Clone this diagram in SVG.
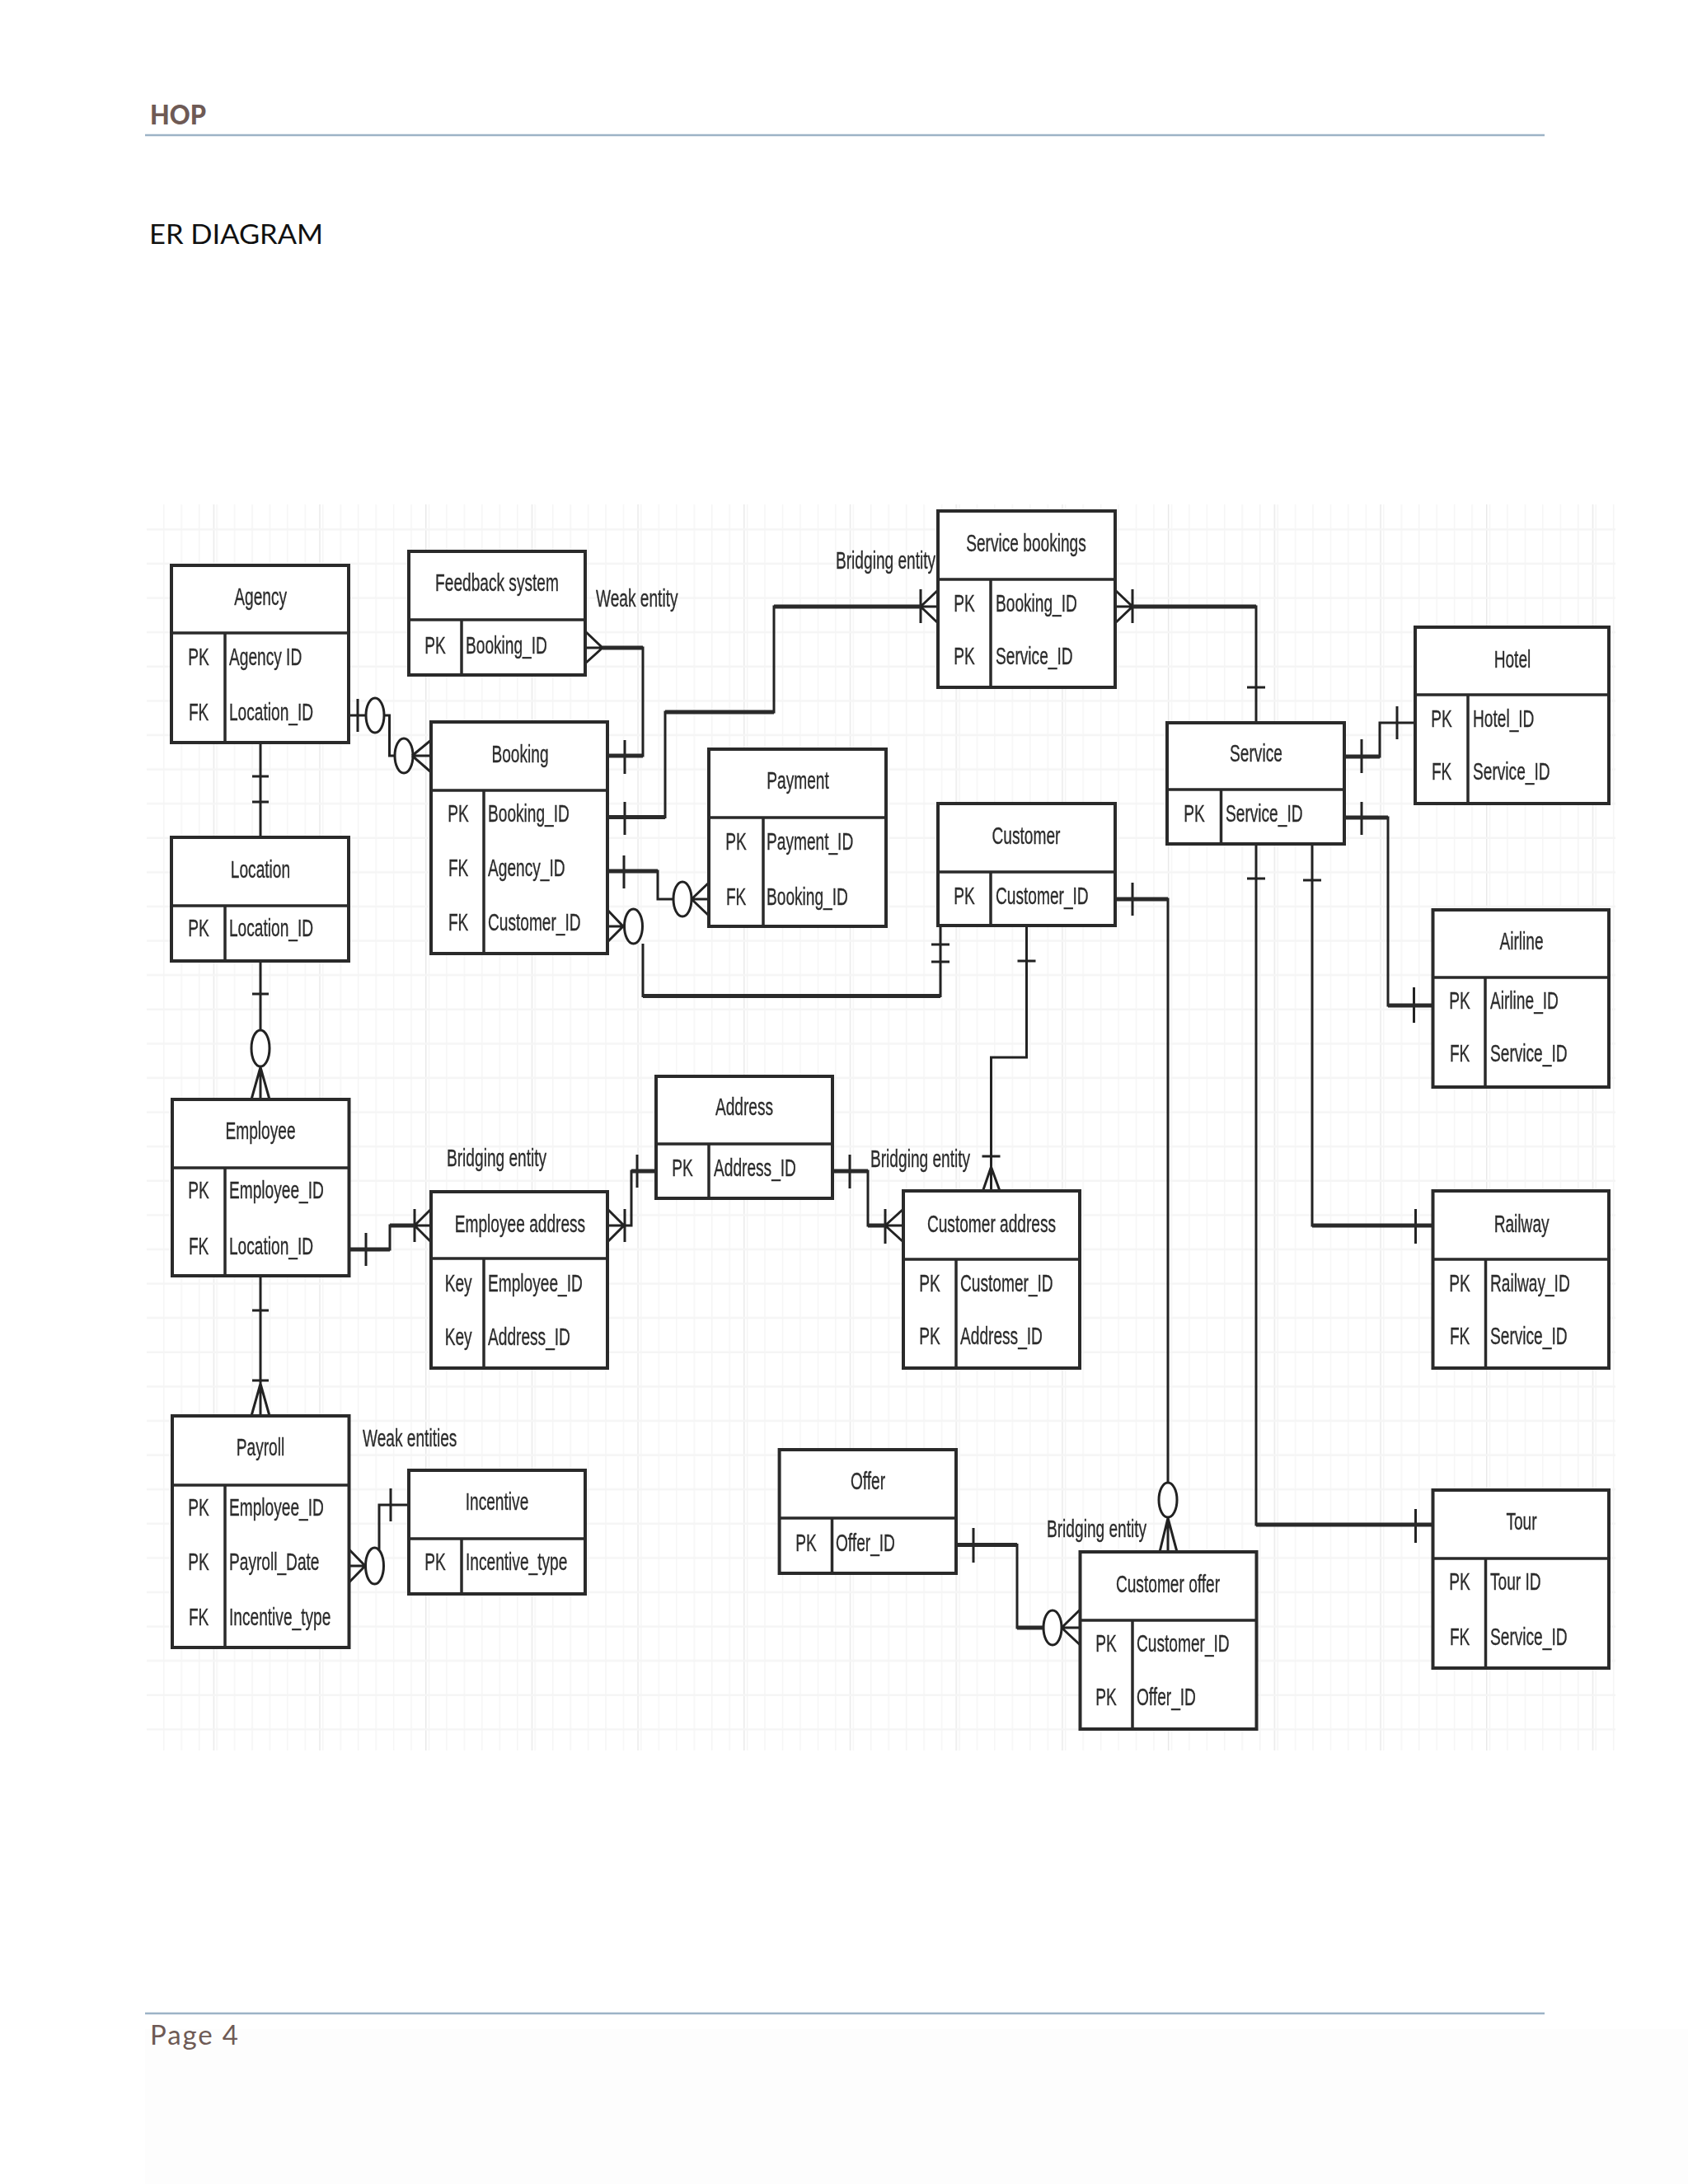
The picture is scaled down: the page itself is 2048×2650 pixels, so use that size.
<svg xmlns="http://www.w3.org/2000/svg" width="2048" height="2650" viewBox="0 0 2048 2650">
<style>
text{font-family:"Liberation Sans",Arial,sans-serif;fill:#2c2c2c;stroke:#2c2c2c;stroke-width:.35;font-size:29px}
.m,.s{transform-box:fill-box;transform:scaleX(.66)}
.m{text-anchor:middle;transform-origin:center}
.s{transform-origin:left}
.b{fill:#fff;stroke:#2a2a2a;stroke-width:4}
.l{fill:none;stroke:#2a2a2a;stroke-width:3.5}
.c{fill:none;stroke:#222;stroke-width:3}
.h{fill:none;stroke:#2a2a2a;stroke-width:5}
.o{fill:#fff;stroke:#222;stroke-width:3}
.p{font-family:Lato,"Liberation Sans",sans-serif;font-size:33px;stroke:none}
.rule{stroke:#9db3c6;stroke-width:2.5}
</style>
<defs>
<filter id="soft" filterUnits="userSpaceOnUse" x="170" y="600" width="1800" height="1540"><feGaussianBlur stdDeviation=".7"/></filter>
<pattern id="gv" width="21.45" height="200" patternUnits="userSpaceOnUse" x="198" y="612"><path d="M.7 0V200" stroke="#f5f5f5" stroke-width="1.5"/></pattern>
<pattern id="gM" width="128.7" height="200" patternUnits="userSpaceOnUse" x="1803" y="612"><path d="M.7 0V200" stroke="#e8e8e8" stroke-width="1.5"/></pattern>
<pattern id="gh" width="200" height="41.6" patternUnits="userSpaceOnUse" x="178" y="602"><path d="M0 41H200" stroke="#f5f5f5" stroke-width="4"/></pattern>
</defs>
<rect width="2048" height="2650" fill="#fff"/>
<rect x="176" y="2462" width="1872" height="188" fill="#fdfdfd"/>
<g id="page">
<text class="p" x="182" y="151" font-weight="900" textLength="68" lengthAdjust="spacingAndGlyphs" style="fill:#6e5a55">HOP</text>
<path class="rule" d="M176 164H1874M176 2443H1874"/>
<text class="p" x="181" y="296" textLength="211" lengthAdjust="spacingAndGlyphs" style="fill:#111">ER DIAGRAM</text>
<text class="p" x="182" y="2481" textLength="107" style="fill:#6e5a55">Page 4</text>
</g>
<g id="diagram" filter="url(#soft)">
<g id="grid">
<rect x="198" y="612" width="1762" height="1512" fill="url(#gv)"/>
<rect x="198" y="612" width="1762" height="1512" fill="url(#gM)"/>
<rect x="178" y="612" width="1782" height="1512" fill="url(#gh)"/>
</g>
<g id="connectors">
<path class="c" d="M423 868H472.500V917H479M434 848V888"/>
<ellipse class="o" cx="455" cy="868" rx="11" ry="21"/>
<ellipse class="o" cx="490" cy="917" rx="11" ry="21"/>
<path class="c" d="M500 917L523 898M500 917H523M500 917L523 937"/>
<path class="c" d="M316 901V1016M306 942H326M306 973H326"/>
<path class="c" d="M710 766L731 786L710 805M710 786H780V917H737M758 898V939"/>
<path class="c" d="M737 991.500H807V864H939V736H1138M758 973V1013"/>
<path class="c" d="M1117 736L1138 716M1117 736L1138 756M1117 715V756"/>
<path class="c" d="M1353 716L1374 736L1353 756M1374 715V756M1353 736H1524V877M1513 834H1535"/>
<path class="c" d="M737 1057H798V1091H817M757 1038V1078"/>
<ellipse class="o" cx="828" cy="1091" rx="11" ry="21"/>
<path class="c" d="M839 1091L860 1071M839 1091H860M839 1091L860 1111"/>
<path class="c" d="M737 1104L756 1124L737 1143M737 1124H757"/>
<path class="c" d="M780 1145V1208.500H1141V1123M1130 1146H1152M1130 1167H1152"/>
<ellipse class="o" cx="768.500" cy="1124" rx="11" ry="21"/>
<path class="c" d="M1631 918H1674V877H1717M1652 897V938M1695 857V897"/>
<path class="c" d="M1631 992H1684V1220H1738M1652 973V1013M1715.500 1198V1241"/>
<path class="c" d="M1524 1024V1850H1738M1513 1066H1535M1717.500 1831V1872"/>
<path class="c" d="M1592 1024V1487H1738M1581 1068H1603M1717.500 1467V1509"/>
<path class="c" d="M1353 1091H1417V1799M1374 1071V1111"/>
<ellipse class="o" cx="1417" cy="1820" rx="11" ry="21"/>
<path class="c" d="M1417 1842L1407 1883M1417 1841V1883M1417 1842L1428 1883"/>
<path class="c" d="M1245.500 1123V1283H1202.500V1445M1234.500 1166H1256.500M1191.500 1403H1213.500M1202.500 1416L1192.500 1445M1202.500 1416L1213 1445"/>
<path class="c" d="M1160 1874.500H1234V1975H1266M1181 1854V1896"/>
<ellipse class="o" cx="1277" cy="1975" rx="11" ry="21"/>
<path class="c" d="M1288 1975L1310.500 1953M1288 1975H1310.500M1288 1975L1310.500 1996"/>
<path class="c" d="M316 1166V1250M306 1206H326"/>
<ellipse class="o" cx="316" cy="1272" rx="11" ry="22"/>
<path class="c" d="M316 1295L305 1334M316 1294V1334M316 1295L327 1334"/>
<path class="c" d="M423 1516H473V1487H523M444 1496V1536M503 1467V1507M503 1487L523 1467M503 1487L523 1507"/>
<path class="c" d="M737 1467L757 1487L737 1507M737 1487H766V1421H796M758 1467V1507M773 1401V1441"/>
<path class="c" d="M1010 1421H1053V1487H1096M1031 1401V1442M1074 1467V1509M1074 1487L1096 1467M1074 1487L1096 1507"/>
<path class="c" d="M316 1548V1718M306 1590H326M306 1675H326M316 1679L305 1718M316 1679L327 1718"/>
<path class="c" d="M423.500 1880L443 1900L423.500 1920M423.500 1900H444M460 1880V1826H496M474 1806V1846"/>
<ellipse class="o" cx="454.500" cy="1900" rx="11" ry="22"/>
<path class="h" d="M731 786H780M737 917H780M737 991.500H807M807 864H939M939 736H1117M1374 736H1524M737 1057H798M1631 918H1674M1631 992H1684M1353 1091H1417M1160 1874.500H1234M1234 1975H1266M1010 1421H1053M1053 1487H1074M766 1421H796M473 1487H503M423 1516H473M1684 1220H1738M1592 1487H1738M1524 1850H1738M780 1208.500H1141"/>
</g>
<g id="annotations">
<text class="s" x="723" y="736">Weak entity</text>
<text class="s" x="1014" y="690">Bridging entity</text>
<text class="s" x="542" y="1415">Bridging entity</text>
<text class="s" x="1056" y="1416">Bridging entity</text>
<text class="s" x="1270" y="1865">Bridging entity</text>
<text class="s" x="440" y="1755">Weak entities</text>
</g>
<g id="agency"><rect class="b" x="208" y="686" width="215" height="215"/><path class="l" d="M208 768H423M273 768V901"/>
<text class="m" x="316" y="734">Agency</text><text class="m" x="241" y="807">PK</text><text class="s" x="278" y="807">Agency ID</text><text class="m" x="241" y="874">FK</text><text class="s" x="278" y="874">Location_ID</text></g>
<g id="feedback-system"><rect class="b" x="496" y="669" width="214" height="150"/><path class="l" d="M496 752H710M560 752V819"/>
<text class="m" x="603" y="717">Feedback system</text><text class="m" x="528" y="793">PK</text><text class="s" x="565" y="793">Booking_ID</text></g>
<g id="booking"><rect class="b" x="523" y="876" width="214" height="281"/><path class="l" d="M523 959H737M587 959V1157"/>
<text class="m" x="631" y="925">Booking</text><text class="m" x="556" y="997">PK</text><text class="s" x="592" y="997">Booking_ID</text><text class="m" x="556" y="1063">FK</text><text class="s" x="592" y="1063">Agency_ID</text><text class="m" x="556" y="1129">FK</text><text class="s" x="592" y="1129">Customer_ID</text></g>
<g id="location"><rect class="b" x="208" y="1016" width="215" height="150"/><path class="l" d="M208 1099H423M273 1099V1166"/>
<text class="m" x="316" y="1065">Location</text><text class="m" x="241" y="1136">PK</text><text class="s" x="278" y="1136">Location_ID</text></g>
<g id="service-bookings"><rect class="b" x="1138" y="620" width="215" height="214"/><path class="l" d="M1138 703H1353M1202 703V834"/>
<text class="m" x="1245" y="669">Service bookings</text><text class="m" x="1170" y="742">PK</text><text class="s" x="1208" y="742">Booking_ID</text><text class="m" x="1170" y="806">PK</text><text class="s" x="1208" y="806">Service_ID</text></g>
<g id="payment"><rect class="b" x="860" y="909" width="215" height="215"/><path class="l" d="M860 992H1075M926 992V1124"/>
<text class="m" x="968" y="957">Payment</text><text class="m" x="893" y="1031">PK</text><text class="s" x="930" y="1031">Payment_ID</text><text class="m" x="893" y="1098">FK</text><text class="s" x="930" y="1098">Booking_ID</text></g>
<g id="customer"><rect class="b" x="1138" y="975" width="215" height="148"/><path class="l" d="M1138 1058H1353M1202 1058V1123"/>
<text class="m" x="1245" y="1024">Customer</text><text class="m" x="1170" y="1097">PK</text><text class="s" x="1208" y="1097">Customer_ID</text></g>
<g id="service"><rect class="b" x="1416" y="877" width="215" height="147"/><path class="l" d="M1416 958H1631M1481.500 958V1024"/>
<text class="m" x="1524" y="924">Service</text><text class="m" x="1449" y="997">PK</text><text class="s" x="1487" y="997">Service_ID</text></g>
<g id="hotel"><rect class="b" x="1717" y="761" width="235" height="214"/><path class="l" d="M1717 843H1952M1781 843V975"/>
<text class="m" x="1835" y="810">Hotel</text><text class="m" x="1749" y="882">PK</text><text class="s" x="1787" y="882">Hotel_ID</text><text class="m" x="1749" y="946">FK</text><text class="s" x="1787" y="946">Service_ID</text></g>
<g id="airline"><rect class="b" x="1738.500" y="1104" width="213.500" height="215"/><path class="l" d="M1738.500 1186H1952M1802 1186V1319"/>
<text class="m" x="1846" y="1152">Airline</text><text class="m" x="1771" y="1224">PK</text><text class="s" x="1808" y="1224">Airline_ID</text><text class="m" x="1771" y="1288">FK</text><text class="s" x="1808" y="1288">Service_ID</text></g>
<g id="railway"><rect class="b" x="1738.500" y="1445" width="213.500" height="215"/><path class="l" d="M1738.500 1528H1952M1802.500 1528V1660"/>
<text class="m" x="1846" y="1495">Railway</text><text class="m" x="1771" y="1567">PK</text><text class="s" x="1808" y="1567">Railway_ID</text><text class="m" x="1771" y="1631">FK</text><text class="s" x="1808" y="1631">Service_ID</text></g>
<g id="tour"><rect class="b" x="1738.500" y="1808" width="213.500" height="216"/><path class="l" d="M1738.500 1891H1952M1802.500 1891V2024"/>
<text class="m" x="1846" y="1856">Tour</text><text class="m" x="1771" y="1929">PK</text><text class="s" x="1808" y="1929">Tour ID</text><text class="m" x="1771" y="1996">FK</text><text class="s" x="1808" y="1996">Service_ID</text></g>
<g id="employee"><rect class="b" x="209" y="1334" width="214.500" height="214"/><path class="l" d="M209 1417H423.500M273 1417V1548"/>
<text class="m" x="316" y="1382">Employee</text><text class="m" x="241" y="1454">PK</text><text class="s" x="278" y="1454">Employee_ID</text><text class="m" x="241" y="1522">FK</text><text class="s" x="278" y="1522">Location_ID</text></g>
<g id="employee-address"><rect class="b" x="523" y="1446" width="214" height="214"/><path class="l" d="M523 1527H737M587 1527V1660"/>
<text class="m" x="631" y="1495">Employee address</text><text class="m" x="556" y="1567">Key</text><text class="s" x="592" y="1567">Employee_ID</text><text class="m" x="556" y="1632">Key</text><text class="s" x="592" y="1632">Address_ID</text></g>
<g id="address"><rect class="b" x="796" y="1306" width="214" height="148"/><path class="l" d="M796 1388H1010M860 1388V1454"/>
<text class="m" x="903" y="1353">Address</text><text class="m" x="828" y="1427">PK</text><text class="s" x="866" y="1427">Address_ID</text></g>
<g id="customer-address"><rect class="b" x="1096" y="1445" width="214" height="215"/><path class="l" d="M1096 1528H1310M1160 1528V1660"/>
<text class="m" x="1203" y="1495">Customer address</text><text class="m" x="1128" y="1567">PK</text><text class="s" x="1165" y="1567">Customer_ID</text><text class="m" x="1128" y="1631">PK</text><text class="s" x="1165" y="1631">Address_ID</text></g>
<g id="payroll"><rect class="b" x="209" y="1718" width="214.500" height="281"/><path class="l" d="M209 1802H423.500M273 1802V1999"/>
<text class="m" x="316" y="1766">Payroll</text><text class="m" x="241" y="1839">PK</text><text class="s" x="278" y="1839">Employee_ID</text><text class="m" x="241" y="1905">PK</text><text class="s" x="278" y="1905">Payroll_Date</text><text class="m" x="241" y="1972">FK</text><text class="s" x="278" y="1972">Incentive_type</text></g>
<g id="incentive"><rect class="b" x="496" y="1784" width="214" height="150"/><path class="l" d="M496 1867H710M560 1867V1934"/>
<text class="m" x="603" y="1832">Incentive</text><text class="m" x="528" y="1905">PK</text><text class="s" x="565" y="1905">Incentive_type</text></g>
<g id="offer"><rect class="b" x="945.600" y="1759" width="214.400" height="150"/><path class="l" d="M945.600 1842H1160M1009.500 1842V1909"/>
<text class="m" x="1053" y="1807">Offer</text><text class="m" x="978" y="1882">PK</text><text class="s" x="1014" y="1882">Offer_ID</text></g>
<g id="customer-offer"><rect class="b" x="1310.500" y="1883" width="214" height="215"/><path class="l" d="M1310.500 1966H1524.500M1374 1966V2098"/>
<text class="m" x="1417" y="1932">Customer offer</text><text class="m" x="1342" y="2004">PK</text><text class="s" x="1379" y="2004">Customer_ID</text><text class="m" x="1342" y="2069">PK</text><text class="s" x="1379" y="2069">Offer_ID</text></g>
</g>
</svg>
